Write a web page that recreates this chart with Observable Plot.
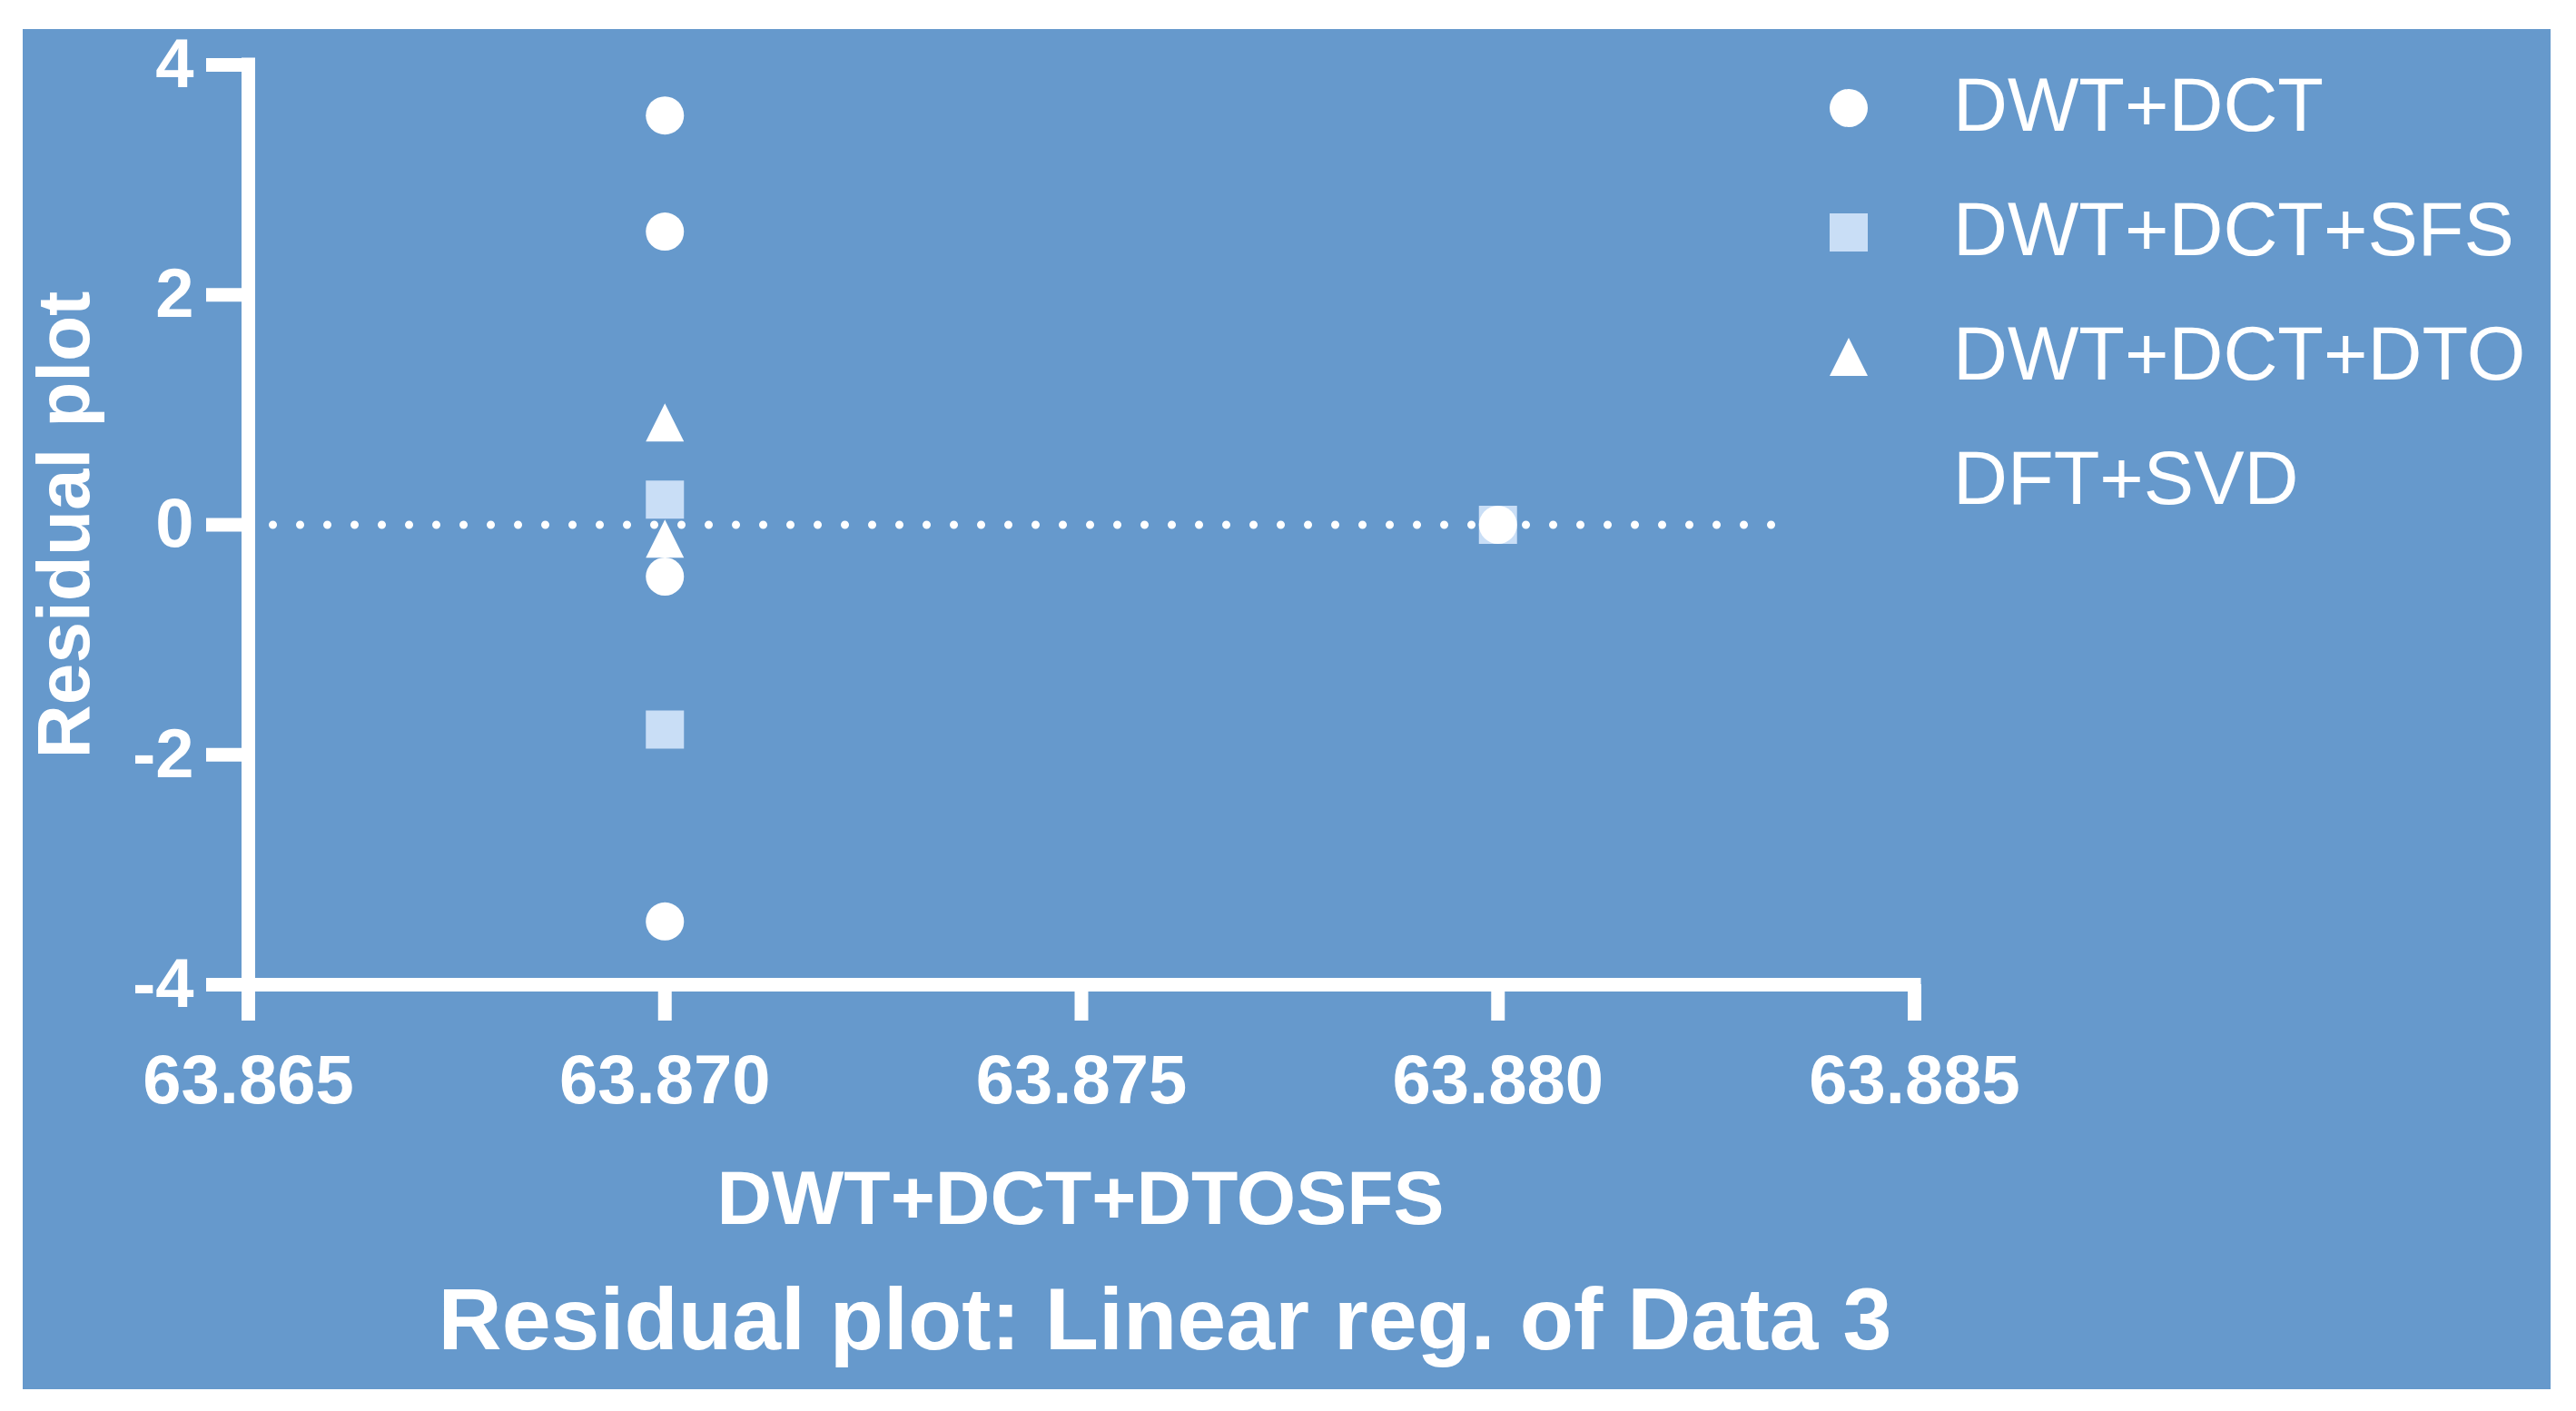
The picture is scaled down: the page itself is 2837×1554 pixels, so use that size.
<!DOCTYPE html>
<html>
<head>
<meta charset="utf-8">
<script src="https://cdn.jsdelivr.net/npm/d3@7"></script>
<script src="https://cdn.jsdelivr.net/npm/@observablehq/plot@0.6"></script>
<style>
  html, body { margin: 0; padding: 0; background: #ffffff; }
  body { width: 2837px; height: 1554px; position: relative; overflow: hidden;
         font-family: "Liberation Sans", Arial, Helvetica, sans-serif; color: #ffffff; }
  #panel { position: absolute; left: 25px; top: 32px; width: 2784px; height: 1498px; background: #6699CC; }
  #chart { position: absolute; left: 0; top: 0; }
  #chart svg { background: transparent; overflow: visible; }
  .ytitle { position: absolute; left: 70px; top: 578px; font-size: 82px; font-weight: bold; line-height: 1;
            white-space: nowrap; transform: translate(-50%, -50%) rotate(-90deg); }
  .xtitle { position: absolute; left: 1190px; top: 1277px; font-size: 84px; font-weight: bold; line-height: 1;
            white-space: nowrap; transform: translateX(-50%); }
  .title { position: absolute; left: 1283px; top: 1404px; font-size: 97px; font-weight: bold; line-height: 1;
           white-space: nowrap; transform: translateX(-50%); }
  #legend { position: absolute; left: 2015px; top: 47px; }
  .lrow { display: flex; align-items: center; height: 137px; }
  .lrow svg { width: 42px; height: 42px; flex: none; margin-top: 6px; }
  .lrow span { margin-left: 94px; font-size: 83px; line-height: 1; white-space: nowrap; }
</style>
</head>
<body>
<div id="panel"></div>
<div id="chart"></div>
<div class="ytitle">Residual plot</div>
<div class="xtitle">DWT+DCT+DTOSFS</div>
<div class="title">Residual plot: Linear reg. of Data 3</div>
<div id="legend"></div>
<script>
// ---- data ----
const xTicks = [63.865, 63.870, 63.875, 63.880, 63.885];
const yTicks = [-4, -2, 0, 2, 4];
const seriesNames = ["DWT+DCT", "DWT+DCT+SFS", "DWT+DCT+DTO", "DFT+SVD"];
const seriesSymbols = ["circle", "square", "triangle", "none"];
const seriesColors = ["#ffffff", "#C9DEF6", "#ffffff", "none"];

const dwtDctX = [63.870, 63.870, 63.870, 63.870, 63.880];
const dwtDctY = [3.56, 2.55, -0.45, -3.45, 0];
const dwtDctSfsX = [63.870, 63.870, 63.880];
const dwtDctSfsY = [0.22, -1.78, 0];
const dwtDctDtoX = [63.870, 63.870];
const dwtDctDtoY = [0.89, -0.12];
const dftSvdX = [];
const dftSvdY = [];
const zeroLineX = [63.8653, 63.8833];

// ---- build tables ----
const toRows = (xs, ys) => xs.map((x, i) => ({x, y: ys[i]}));
const circles = toRows(dwtDctX, dwtDctY);
const squares = toRows(dwtDctSfsX, dwtDctSfsY);
const triangles = toRows(dwtDctDtoX, dwtDctDtoY);
const hidden = toRows(dftSvdX, dftSvdY);

// custom symbols whose bounding box is 2r x 2r (Plot passes size = PI r^2)
const boxSquare = {draw(ctx, size) { const r = Math.sqrt(size / Math.PI); ctx.rect(-r, -r, 2 * r, 2 * r); }};
const boxTriangle = {draw(ctx, size) { const r = Math.sqrt(size / Math.PI);
  ctx.moveTo(0, -r); ctx.lineTo(r, r); ctx.lineTo(-r, r); ctx.closePath(); }};

const W = "#ffffff";
const chart = Plot.plot({
  width: 2837,
  height: 1554,
  marginLeft: 273,
  marginRight: 729,
  marginTop: 71,
  marginBottom: 470,
  style: {background: "transparent", color: W, fontFamily: "'Liberation Sans', Arial, sans-serif"},
  x: {domain: [xTicks[0], xTicks[xTicks.length - 1]]},
  y: {domain: [yTicks[0], yTicks[yTicks.length - 1]]},
  marks: [
    Plot.ruleY([{y: 0, x1: zeroLineX[0], x2: zeroLineX[1]}],
      {y: "y", x1: "x1", x2: "x2", stroke: W, strokeWidth: 9, strokeDasharray: "0 30", strokeLinecap: "round"}),
    Plot.ruleX([xTicks[0]], {y1: yTicks[0], y2: yTicks[yTicks.length - 1], stroke: W, strokeWidth: 15, strokeLinecap: "square"}),
    Plot.ruleY([yTicks[0]], {x1: xTicks[0], x2: xTicks[xTicks.length - 1], stroke: W, strokeWidth: 15, strokeLinecap: "square"}),
    Plot.axisX(xTicks, {tickSize: 40, tickPadding: 37, strokeWidth: 15, fontSize: 76, fontWeight: "bold",
      tickFormat: d => d.toFixed(3), label: null, fill: W, stroke: W}),
    Plot.axisY(yTicks, {tickSize: 46, tickPadding: 14, strokeWidth: 15, fontSize: 76, fontWeight: "bold",
      tickFormat: d => String(d), label: null, fill: W, stroke: W}),
    Plot.dot(hidden, {x: "x", y: "y", r: 21, fill: "none"}),
    Plot.dot(squares, {x: "x", y: "y", r: 21, symbol: boxSquare, fill: seriesColors[1]}),
    Plot.dot(triangles, {x: "x", y: "y", r: 21, symbol: boxTriangle, fill: seriesColors[2]}),
    Plot.dot(circles, {x: "x", y: "y", r: 21, symbol: "circle", fill: seriesColors[0]})
  ]
});
document.getElementById("chart").appendChild(chart);

// ---- legend ----
const legend = document.getElementById("legend");
seriesNames.forEach((name, i) => {
  const row = document.createElement("div");
  row.className = "lrow";
  const sym = seriesSymbols[i], col = seriesColors[i];
  let shape = "";
  if (sym === "circle") shape = `<circle cx="21" cy="21" r="21" fill="${col}"/>`;
  else if (sym === "square") shape = `<rect x="0" y="0" width="42" height="42" fill="${col}"/>`;
  else if (sym === "triangle") shape = `<path d="M21,0L42,42L0,42Z" fill="${col}"/>`;
  row.innerHTML = `<svg viewBox="0 0 42 42">${shape}</svg><span>${name}</span>`;
  legend.appendChild(row);
});
</script>
</body>
</html>
